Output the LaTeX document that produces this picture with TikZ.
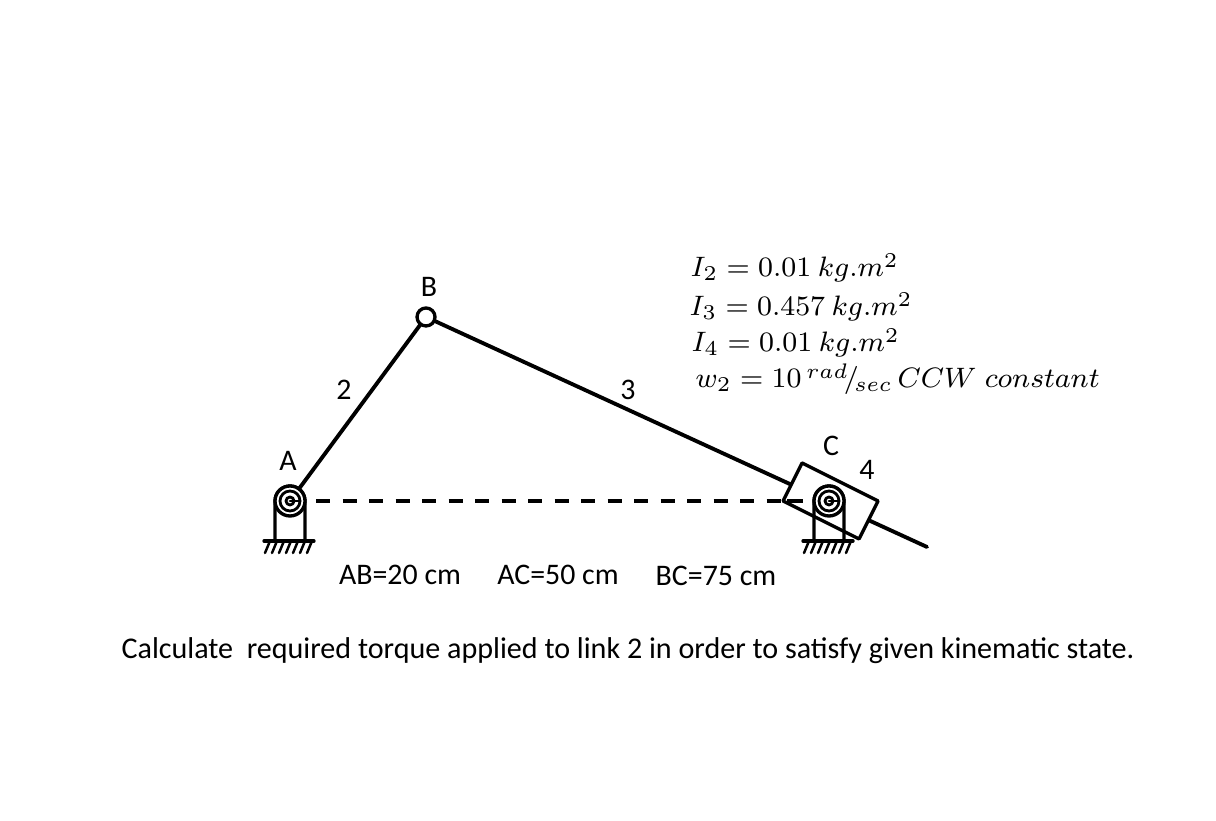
\documentclass[tikz,border=0pt]{standalone}
\usepackage{fontspec}
\setmainfont{Carlito}
\newcommand*{\drawpivot}[1]{%
    \draw[link] (#1) ++(-.15,-.4) -- ++(0,.4) arc[start angle=180, end angle=0, radius=.15cm] -- ++(0,-.4);
    \draw[link,fill=white] (#1) circle [radius=.15cm];
    \draw[pin] (#1) circle [radius=.1cm];
    \draw[pin] (#1) circle [radius=.04cm];
    \draw[pin] (#1) -- ++(.1,0);
    \draw[link] (#1) ++(-.26,-.4) coordinate (g0) -- ++(.5,0);
    \foreach \i in {0,...,6} \draw[hatch] (g0) ++(.06+.07*\i,0) -- ++(-.05,-.12);
}
\tikzset{
    link/.style={line width=.95pt},
    pin/.style={line width=.8pt},
    hatch/.style={line width=.7pt},
    lbl/.style={font=\fontsize{8.5}{10}\selectfont,inner sep=0pt},
    eqn/.style={font=\fontsize{8.2}{10}\selectfont,inner sep=0pt,anchor=base west},
}
\begin{document}
\begin{tikzpicture}[line cap=round,line join=round]
    \useasboundingbox (0,0) rectangle (12.16,8.21);
    \coordinate (A) at (2.90,3.20);
    \coordinate (B) at (4.26,5.04);
    \coordinate (C) at (8.29,3.20);
    \coordinate (E) at (9.27,2.74);
    \draw[link,line cap=butt,dash pattern=on .14cm off .125cm] (3.16,3.20) coordinate (d0) -- (8.03,3.20) coordinate (d1);
    \draw[line width=1.1pt] (A) -- (B);
    \draw[line width=1.1pt] (B) -- (E);
    \draw[link,fill=white] (8.02,3.58) coordinate (s1) -- (8.78,3.20) coordinate (s2) -- (8.59,2.82) coordinate (s3) -- (7.83,3.20) coordinate (s4) -- cycle;
    \draw[link,line cap=butt] (7.87,3.20) -- (8.03,3.20);
    \drawpivot{A}
    \drawpivot{C}
    \draw[link,fill=white] (B) circle [radius=.09cm];
    \node[lbl] (la) at (2.88,3.60) {A};
    \node[lbl] (lb) at (4.29,5.34) {B};
    \node[lbl] (lc) at (8.31,3.75) {C};
    \node[lbl] (l2) at (3.44,4.31) {2};
    \node[lbl] (l3) at (6.28,4.31) {3};
    \node[lbl] (l4) at (8.67,3.51) {4};
    \node[lbl] (ab) at (4.00,2.46) {AB=20 cm};
    \node[lbl] (ac) at (5.58,2.46) {AC=50 cm};
    \node[lbl] (bc) at (7.16,2.45) {BC=75 cm};
    \node[lbl,font=\fontsize{8.56}{10}\selectfont] (task) at (6.28,1.70) {Calculate\ \ required torque applied to link 2 in order to satisfy given kinematic state.};
    \node[eqn] (i2) at (6.90,5.44) {$I_2 = 0.01\ kg.m^2$};
    \node[eqn] (i3) at (6.89,5.05) {$I_3 = 0.457\ kg.m^2$};
    \node[eqn] (i4) at (6.91,4.69) {$I_4 = 0.01\ kg.m^2$};
    \node[eqn] (w2) at (6.95,4.33) {$w_2 = 10\,{}^{rad}\!/_{\!sec}\,CCW\;constant$};
\end{tikzpicture}
\end{document}
